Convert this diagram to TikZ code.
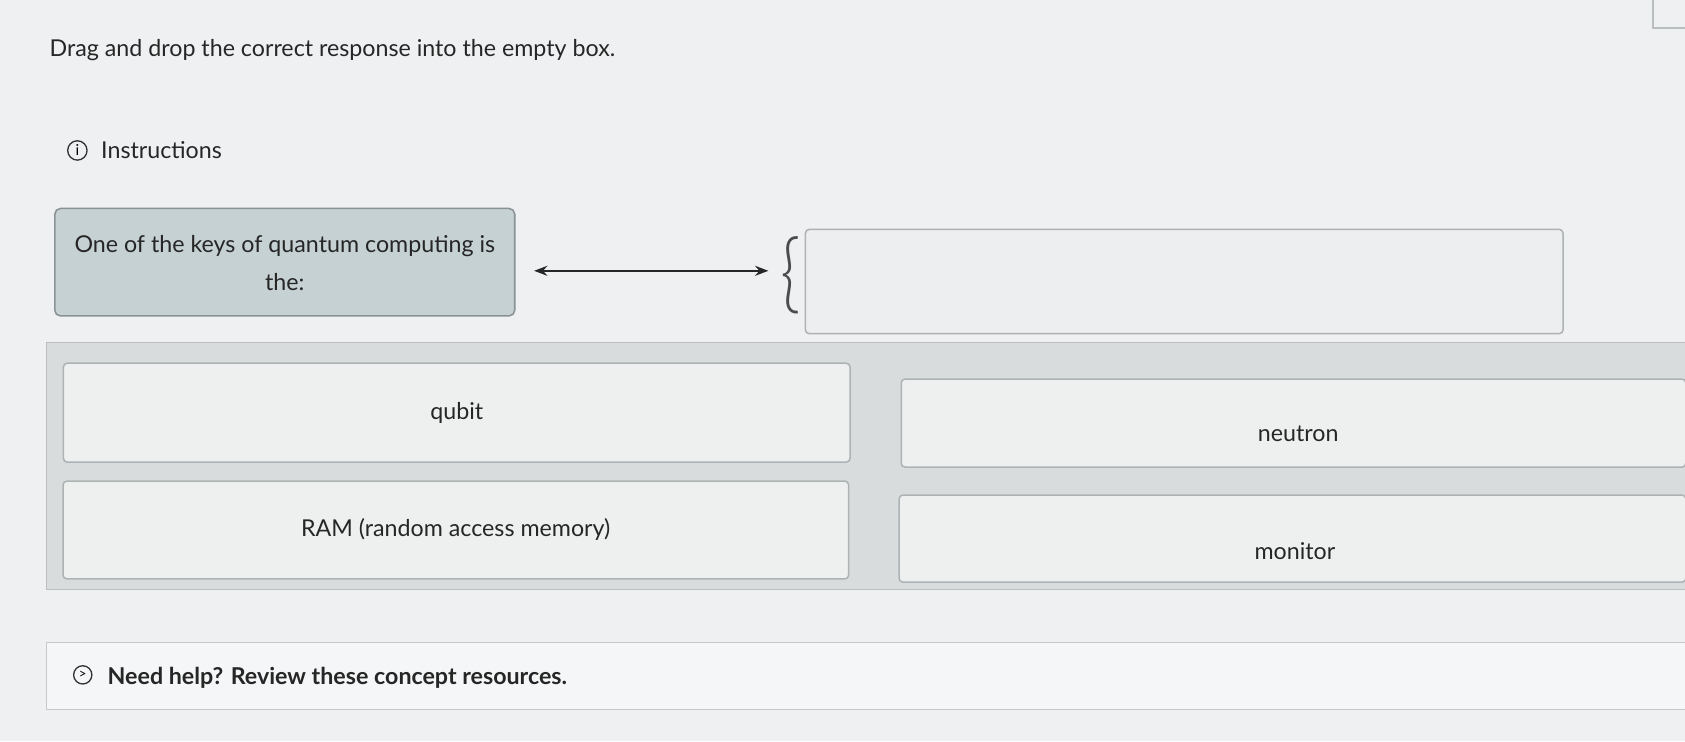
\documentclass[tikz,border=0pt]{standalone}
\usepackage{fontspec}
\setmainfont{Lato}
\usetikzlibrary{arrows.meta}
\definecolor{bg}{HTML}{EEF0F1}
\definecolor{prompt}{HTML}{C6D1D4}
\definecolor{panel}{HTML}{D8DCDC}
\definecolor{opt}{HTML}{EEF0F0}
\definecolor{edge}{HTML}{8A9296}
\tikzset{
 optbox/.style={draw=edge!70, fill=opt, rounded corners=2pt, line width=0.8pt},
 txt/.style={font=\fontsize{12.3pt}{15pt}\selectfont, text=black!85},
}
\begin{document}
\begin{tikzpicture}[x=0.02cm,y=-0.02cm]
\useasboundingbox[fill=bg] (0,0) rectangle (1568,690);
\node[txt, anchor=west] (title) at (40,47) {Drag and drop the correct response into the empty box.};
\node[draw=black!80, circle, line width=0.7pt, minimum size=0.36cm, inner sep=0pt, font=\fontsize{8pt}{9pt}\selectfont] (info) at (72,140) {i};
\node[txt, anchor=west] (instr) at (88,140) {Instructions};
\node[draw=edge, fill=prompt, rounded corners=3pt, minimum width=428*0.02cm, minimum height=100*0.02cm, line width=0.8pt] (prompt) at (265,244) {};
\node[txt, align=center] (ptext) at (265,245) {One of the keys of quantum computing is\\[5pt] the:};
\coordinate (a1) at (497,252);
\coordinate (a2) at (715,252);
\draw[{Stealth[length=7pt]}-{Stealth[length=7pt]}, line width=1.3pt, black!85] (a1) -- (a2);
\node[font=\fontsize{46pt}{46pt}\selectfont\addfontfeature{FakeBold=0}, text=black!70, inner sep=0pt, xscale=0.8] (brace) at (736,256) {\fontspec{Lato Light}\{};
\node[optbox, fill=opt!95!prompt, minimum width=705*0.02cm, minimum height=97*0.02cm] (empty) at (1102,262) {};
\node[fill=panel, draw=edge!60, minimum width=1525*0.02cm, minimum height=230*0.02cm, anchor=north west] (panel) at (43,318) {};
\node[optbox, minimum width=732*0.02cm, minimum height=92*0.02cm] (qubit) at (425,384) {};
\node[txt] at (425,384) {qubit};
\node[optbox, minimum width=730*0.02cm, minimum height=82*0.02cm, anchor=north west] (neutron) at (838,352) {};
\node[txt] at (1208,404) {neutron};
\node[optbox, minimum width=731*0.02cm, minimum height=91*0.02cm, anchor=north west] (ram) at (58,447) {};
\node[txt] at (424,493) {RAM (random access memory)};
\node[optbox, minimum width=732*0.02cm, minimum height=81*0.02cm, anchor=north west] (monitor) at (836,460) {};
\node[txt] at (1205,513) {monitor};
\node[draw=edge!50, fill=bg!60!white, minimum width=1525*0.02cm, minimum height=63*0.02cm, anchor=north west] (help) at (43,597) {};
\node[draw=black!80, circle, line width=0.7pt, minimum size=0.34cm, inner sep=0pt, font=\fontsize{7pt}{8pt}\selectfont] (hc) at (77,628) {>};
\node[txt, font=\fontsize{12.3pt}{15pt}\bfseries\selectfont, anchor=west] (htext) at (94,631) {Need help? Review these concept resources.};
\draw[edge!60, line width=0.8pt] (1538,0) -- (1538,26) -- (1568,26);
\end{tikzpicture}
\end{document}
